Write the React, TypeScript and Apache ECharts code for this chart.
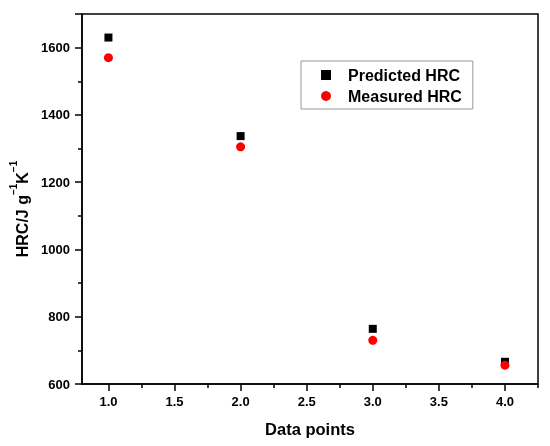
import React from 'react';
import * as echarts from 'echarts';

const xPoints = [1, 2, 3, 4];
const predictedHRC = [1630, 1337, 764, 666];
const measuredHRC = [1570, 1305, 730, 656];
const xMajorTicks = [1, 1.5, 2, 2.5, 3, 3.5, 4];
const xMinorTicks = [1.25, 1.75, 2.25, 2.75, 3.25, 3.75, 4.25];

const FONT = 'Arial, "Liberation Sans", sans-serif';

const App: React.FC = () => {
  const chartRef = React.useRef<HTMLDivElement>(null);

  React.useEffect(() => {
    if (!chartRef.current) return;
    const chart = echarts.init(chartRef.current, undefined, { renderer: 'svg' });
    const option = {
      animation: false,
      grid: {
        left: 81, top: 14, right: 12, bottom: 62,
        show: true, borderColor: '#000', borderWidth: 1.5,
      },
      legend: {
        orient: 'vertical',
        left: 301,
        top: 61,
        padding: [6, 11, 5, 20],
        itemGap: 5,
        itemWidth: 10,
        itemHeight: 10,
        borderColor: '#999',
        borderWidth: 1,
        textStyle: {
          fontFamily: FONT, fontWeight: 'bold', fontSize: 16, color: '#000',
          padding: [0, 0, 0, 12],
        },
        data: [
          { name: 'Predicted HRC', icon: 'rect' },
          { name: 'Measured HRC', icon: 'circle' },
        ],
      },
      xAxis: [
        {
          type: 'value',
          position: 'bottom',
          min: 0.8,
          max: 4.25,
          name: 'Data points',
          nameLocation: 'middle',
          nameGap: 36,
          nameTextStyle: { fontFamily: FONT, fontWeight: 'bold', fontSize: 16.5, color: '#000' },
          axisLine: { show: true, lineStyle: { color: '#000', width: 1.5 } },
          axisTick: { show: true, length: 7, customValues: xMajorTicks, lineStyle: { color: '#000', width: 1.5 } },
          axisLabel: {
            customValues: xMajorTicks,
            margin: 11,
            fontFamily: FONT, fontWeight: 'bold', fontSize: 13, color: '#000',
            formatter: (v: number) => v.toFixed(1),
          },
          splitLine: { show: false },
        },
        {
          type: 'value',
          position: 'bottom',
          min: 0.8,
          max: 4.25,
          axisLine: { show: false },
          axisTick: { show: true, length: 4, customValues: xMinorTicks, lineStyle: { color: '#000', width: 1.5 } },
          axisLabel: { show: false },
          splitLine: { show: false },
        },
      ],
      yAxis: {
        type: 'value',
        min: 600,
        max: 1700,
        interval: 200,
        name: '{b|HRC/J g}{s|−1}{b|K}{s|−1}',
        nameLocation: 'middle',
        nameGap: 52,
        nameRotate: 90,
        nameTextStyle: {
          color: '#000',
          padding: [0, 20, 0, 0],
          rich: {
            b: { fontFamily: FONT, fontWeight: 'bold', fontSize: 16, color: '#000', lineHeight: 22, verticalAlign: 'bottom' },
            s: { fontFamily: FONT, fontWeight: 'bold', fontSize: 10, color: '#000', lineHeight: 22, verticalAlign: 'top' },
          },
        },
        axisLine: { show: true, lineStyle: { color: '#000', width: 1.5 } },
        axisTick: { show: true, length: 7, lineStyle: { color: '#000', width: 1.5 } },
        minorTick: { show: true, splitNumber: 2, length: 4, lineStyle: { color: '#000', width: 1.5 } },
        axisLabel: {
          margin: 12,
          fontFamily: FONT, fontWeight: 'bold', fontSize: 13, color: '#000',
          showMaxLabel: false,
          formatter: (v: number) => String(v),
        },
        splitLine: { show: false },
      },
      series: [
        {
          name: 'Predicted HRC',
          type: 'scatter',
          xAxisIndex: 0,
          symbol: 'rect',
          symbolSize: 8,
          itemStyle: { color: '#000', opacity: 1 },
          data: xPoints.map((x, i) => [x, predictedHRC[i]]),
        },
        {
          name: 'Measured HRC',
          type: 'scatter',
          xAxisIndex: 0,
          symbol: 'circle',
          symbolSize: 9,
          itemStyle: { color: '#ff0000', opacity: 1 },
          data: xPoints.map((x, i) => [x, measuredHRC[i]]),
        },
      ],
    };
    chart.setOption(option);
    return () => chart.dispose();
  }, []);

  return (
    <div
      ref={chartRef}
      style={{ position: 'fixed', left: 0, top: 0, width: 550, height: 446 }}
    />
  );
};

export default App;
